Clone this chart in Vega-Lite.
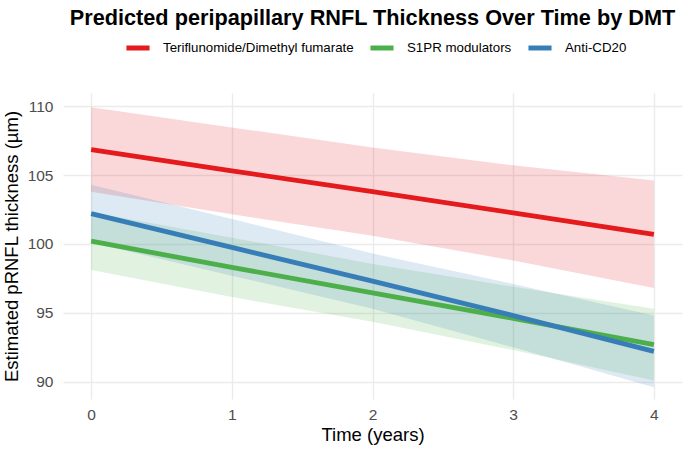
{
  "$schema": "https://vega.github.io/schema/vega-lite/v6.json",
  "width": 619,
  "height": 306,
  "autosize": {"type": "none"},
  "padding": {"left": 63, "top": 93, "right": 3, "bottom": 52},
  "background": "white",
  "title": {
    "text": "Predicted peripapillary RNFL Thickness Over Time by DMT",
    "anchor": "middle",
    "fontSize": 21.7,
    "fontWeight": "bold",
    "font": "Liberation Sans",
    "color": "black",
    "offset": 5
  },
  "config": {
    "view": {"stroke": null},
    "font": "Liberation Sans",
    "axis": {
      "grid": true,
      "gridColor": "#EBEBEB",
      "gridWidth": 1.4,
      "domain": false,
      "ticks": false,
      "labelColor": "#4D4D4D",
      "labelFontSize": 15.5,
      "labelFont": "Liberation Sans",
      "titleFont": "Liberation Sans",
      "titleFontSize": 18.5,
      "titleFontWeight": "normal",
      "titleColor": "black"
    },
    "legend": {
      "orient": "none",
      "direction": "horizontal",
      "columns": 3,
      "legendX": 62,
      "legendY": -58,
      "padding": 0,
      "labelFont": "Liberation Sans",
      "labelFontSize": 13.3,
      "labelColor": "black",
      "labelOffset": 12,
      "labelLimit": 0,
      "columnPadding": 6,
      "title": null
    }
  },
  "data": {
    "values": [
      {"time": 0, "group": "Teriflunomide/Dimethyl fumarate", "fit": 106.85, "lo": 103.78, "hi": 109.92},
      {"time": 1, "group": "Teriflunomide/Dimethyl fumarate", "fit": 105.3, "lo": 102.15, "hi": 108.45},
      {"time": 2, "group": "Teriflunomide/Dimethyl fumarate", "fit": 103.8, "lo": 100.6, "hi": 107.0},
      {"time": 3, "group": "Teriflunomide/Dimethyl fumarate", "fit": 102.25, "lo": 98.8, "hi": 105.7},
      {"time": 4, "group": "Teriflunomide/Dimethyl fumarate", "fit": 100.7, "lo": 96.8, "hi": 104.6},
      {"time": 0, "group": "S1PR modulators", "fit": 100.2, "lo": 98.1, "hi": 102.3},
      {"time": 1, "group": "S1PR modulators", "fit": 98.3, "lo": 96.15, "hi": 100.45},
      {"time": 2, "group": "S1PR modulators", "fit": 96.45, "lo": 94.35, "hi": 98.55},
      {"time": 3, "group": "S1PR modulators", "fit": 94.6, "lo": 92.3, "hi": 96.9},
      {"time": 4, "group": "S1PR modulators", "fit": 92.7, "lo": 90.1, "hi": 95.3},
      {"time": 0, "group": "Anti-CD20", "fit": 102.2, "lo": 100.1, "hi": 104.3},
      {"time": 1, "group": "Anti-CD20", "fit": 99.75, "lo": 97.7, "hi": 101.8},
      {"time": 2, "group": "Anti-CD20", "fit": 97.3, "lo": 95.3, "hi": 99.3},
      {"time": 3, "group": "Anti-CD20", "fit": 94.8, "lo": 92.5, "hi": 97.1},
      {"time": 4, "group": "Anti-CD20", "fit": 92.2, "lo": 89.6, "hi": 94.8}
    ]
  },
  "encoding": {
    "x": {
      "field": "time",
      "type": "quantitative",
      "scale": {"domain": [-0.2, 4.2], "nice": false, "zero": false},
      "axis": {"values": [0, 1, 2, 3, 4], "title": "Time (years)", "labelPadding": 8, "titlePadding": 3, "format": "d"}
    }
  },
  "layer": [
    {
      "mark": {"type": "area", "opacity": 0.17},
      "encoding": {
        "y": {
          "field": "lo",
          "type": "quantitative",
          "scale": {"domain": [88.75, 110.95], "nice": false, "zero": false},
          "axis": {"values": [90, 95, 100, 105, 110], "title": "Estimated pRNFL thickness (µm)", "labelPadding": 10, "titlePadding": 6}
        },
        "y2": {"field": "hi"},
        "fill": {
          "field": "group",
          "type": "nominal",
          "scale": {
            "domain": ["Teriflunomide/Dimethyl fumarate", "S1PR modulators", "Anti-CD20"],
            "range": ["#E41A1C", "#4DAF4A", "#377EB8"]
          },
          "legend": null
        }
      }
    },
    {
      "mark": {"type": "line", "strokeWidth": 4.8},
      "encoding": {
        "y": {
          "field": "fit",
          "type": "quantitative",
          "scale": {"domain": [88.75, 110.95], "nice": false, "zero": false},
          "axis": {"values": [90, 95, 100, 105, 110], "title": "Estimated pRNFL thickness (µm)", "labelPadding": 10, "titlePadding": 6}
        },
        "stroke": {
          "field": "group",
          "type": "nominal",
          "sort": ["Teriflunomide/Dimethyl fumarate", "S1PR modulators", "Anti-CD20"],
          "scale": {"range": ["#E41A1C", "#4DAF4A", "#377EB8"]},
          "legend": {
            "symbolType": "M-1.1,0H1.1",
            "symbolSize": 441,
            "symbolStrokeWidth": 5,
            "symbolOpacity": 1
          }
        }
      }
    }
  ]
}
